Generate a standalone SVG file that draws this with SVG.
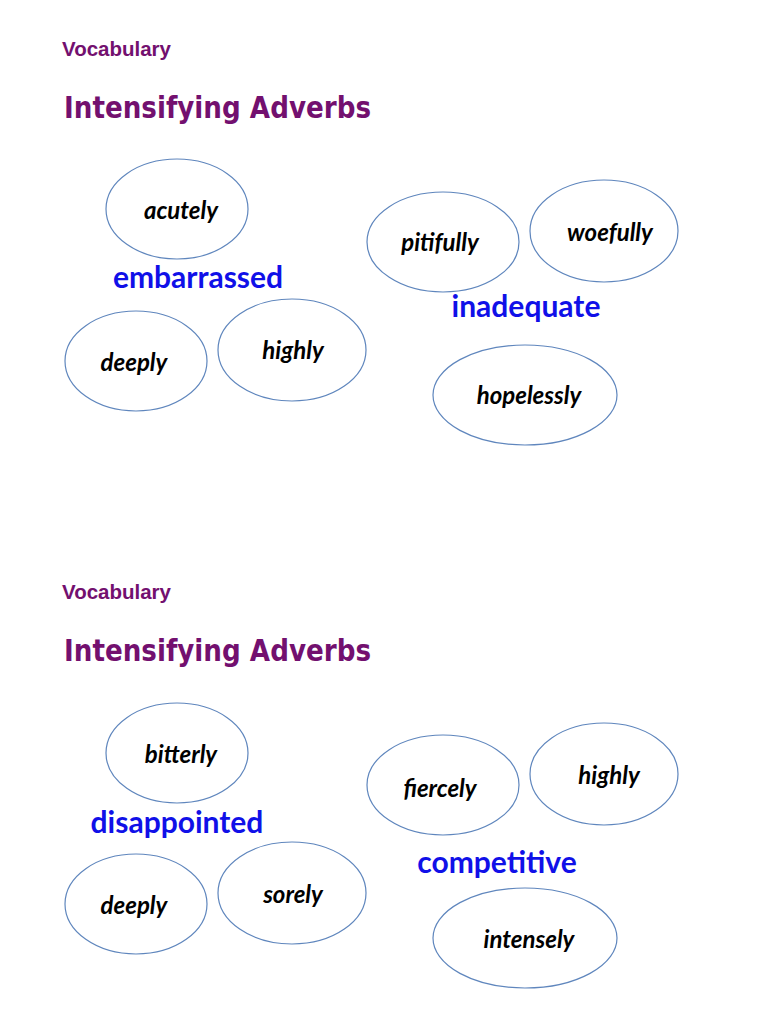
<svg xmlns="http://www.w3.org/2000/svg" width="768" height="1024" viewBox="0 0 768 1024">
<style>
.vocab{font-family:"Liberation Sans",Arial,sans-serif;font-weight:bold;font-size:20.5px;fill:#73106f}
.title{font-family:"Comic Sans MS","DejaVu Sans",sans-serif;font-weight:bold;font-size:31px;fill:#73106f}
.node ellipse{fill:#ffffff;stroke:#5f86bd;stroke-width:1.2}
.word{font-family:Lato,"Open Sans",sans-serif;font-weight:bold;font-style:italic;font-size:24px;fill:#000000;text-anchor:middle}
.key{font-family:Lato,"Open Sans",sans-serif;font-weight:bold;font-size:30px;fill:#1010e8;text-anchor:middle}
</style>
<rect width="768" height="1024" fill="#ffffff"/>
<g id="section1">
<text class="vocab" x="62" y="56">Vocabulary</text>
<text class="title" x="64" y="118" textLength="307" lengthAdjust="spacingAndGlyphs">Intensifying Adverbs</text>
<g id="n-acutely" class="node"><ellipse cx="177" cy="209" rx="71" ry="50"/><text class="word" x="181" y="219">acutely</text></g>
<g id="n-deeply1" class="node"><ellipse cx="136" cy="361" rx="71" ry="50"/><text class="word" x="134" y="371">deeply</text></g>
<g id="n-highly1" class="node"><ellipse cx="292" cy="350" rx="74" ry="51"/><text class="word" x="293" y="359">highly</text></g>
<text id="k-embarrassed" class="key" x="198" y="288">embarrassed</text>
<g id="n-pitifully" class="node"><ellipse cx="443" cy="242" rx="76" ry="50"/><text class="word" x="440" y="251">pitifully</text></g>
<g id="n-woefully" class="node"><ellipse cx="604" cy="231" rx="74" ry="51"/><text class="word" x="610" y="241">woefully</text></g>
<text id="k-inadequate" class="key" x="526" y="317">inadequate</text>
<g id="n-hopelessly" class="node"><ellipse cx="525" cy="395" rx="92" ry="50"/><text class="word" x="529" y="404">hopelessly</text></g>
</g>
<g id="section2">
<text class="vocab" x="62" y="599">Vocabulary</text>
<text class="title" x="64" y="661" textLength="307" lengthAdjust="spacingAndGlyphs">Intensifying Adverbs</text>
<g id="n-bitterly" class="node"><ellipse cx="177" cy="753" rx="71" ry="50"/><text class="word" x="181" y="763">bitterly</text></g>
<g id="n-deeply2" class="node"><ellipse cx="136" cy="904" rx="71" ry="50"/><text class="word" x="134" y="914">deeply</text></g>
<g id="n-sorely" class="node"><ellipse cx="292" cy="893" rx="74" ry="51"/><text class="word" x="293" y="903">sorely</text></g>
<text id="k-disappointed" class="key" x="177" y="833">disappointed</text>
<g id="n-fiercely" class="node"><ellipse cx="443" cy="785" rx="76" ry="50"/><text class="word" x="440" y="797">fiercely</text></g>
<g id="n-highly2" class="node"><ellipse cx="604" cy="774" rx="74" ry="51"/><text class="word" x="609" y="784">highly</text></g>
<text id="k-competitive" class="key" x="497" y="873">competitive</text>
<g id="n-intensely" class="node"><ellipse cx="525" cy="938" rx="92" ry="50"/><text class="word" x="529" y="948">intensely</text></g>
</g>
<g id="connectors"/>
</svg>
